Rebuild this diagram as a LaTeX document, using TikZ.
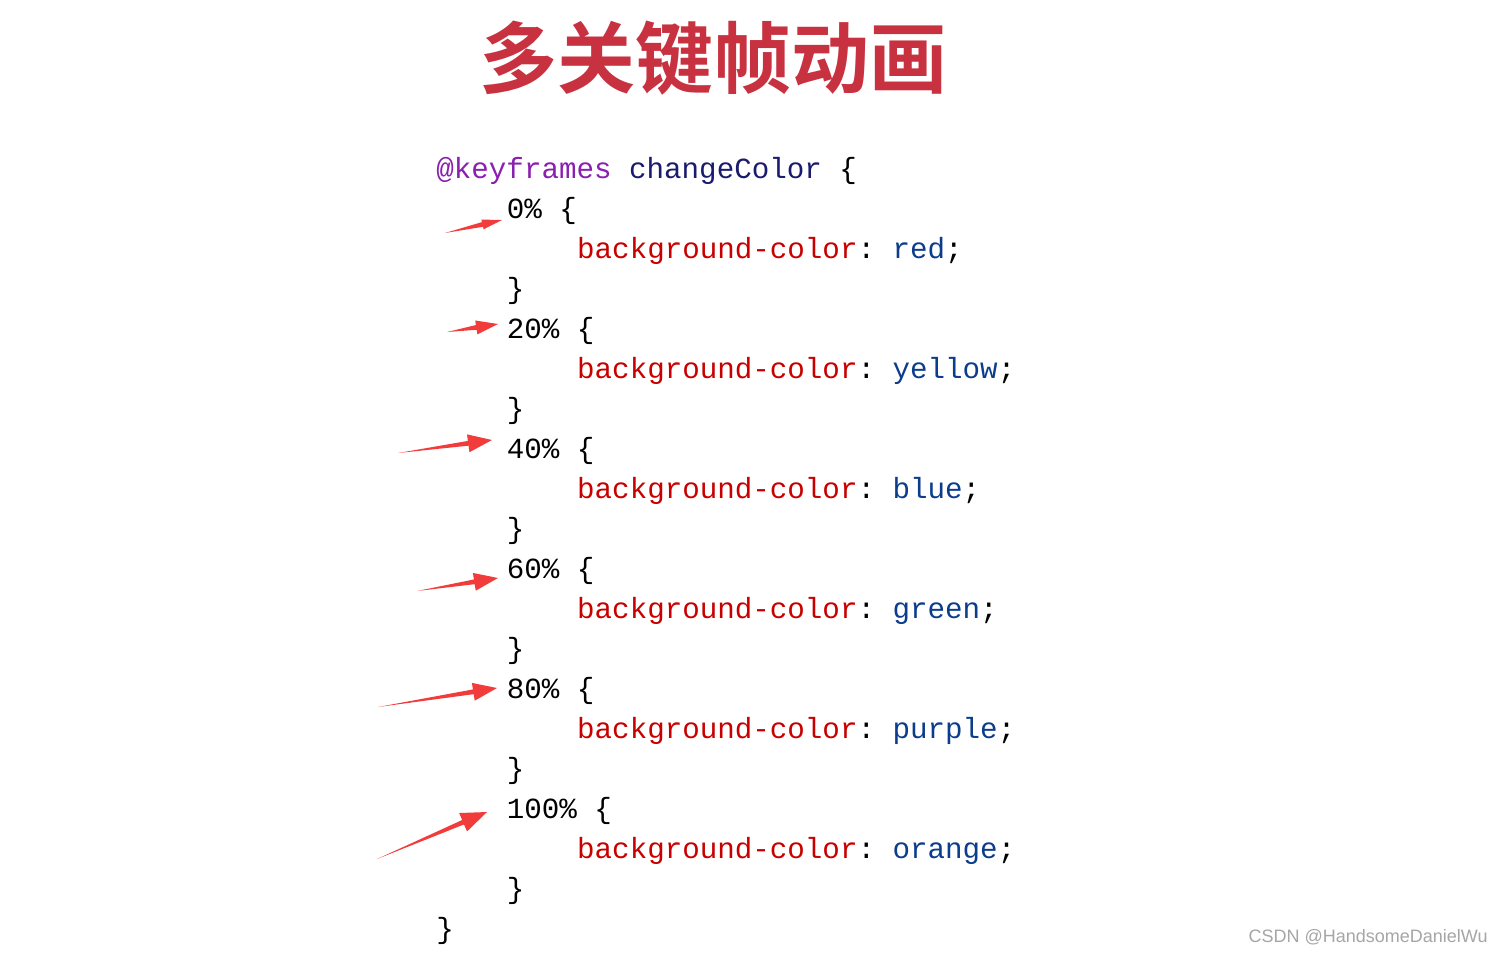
\documentclass[tikz,border=0pt]{standalone}
\usepackage{fontspec}
\usetikzlibrary{calc}
\newfontfamily\cjk{Noto Sans CJK SC Bold}
\setmonofont{Liberation Mono}
\definecolor{titlered}{HTML}{C83240}
\definecolor{kwpurple}{HTML}{8A1FB0}
\definecolor{navy}{HTML}{1A1A6E}
\definecolor{propred}{HTML}{C80000}
\definecolor{valblue}{HTML}{0B3D8C}
\definecolor{arrred}{HTML}{F23C3C}
\tikzset{code/.style={anchor=base west,inner sep=0pt,font=\ttfamily\fontsize{14.6pt}{16pt}\selectfont}}
\newcommand\cx[1]{\fpeval{436+17.6*#1}}
\newcommand\redarrow[5]{%
 \coordinate (#1t) at (#2); \coordinate (#1p) at (#3);
 \coordinate (#1h) at ($(#1p)!#4!(#1t)$);
 \fill[arrred] (#1t) -- ($(#1h)!1.2pt!90:(#1p)$) -- ($(#1h)!#5!90:(#1p)$) -- (#1p)
   -- ($(#1h)!#5!-90:(#1p)$) -- ($(#1h)!1.2pt!-90:(#1p)$) -- cycle;}
\begin{document}
\begin{tikzpicture}[x=0.5pt,y=-0.5pt]
\useasboundingbox[fill=white] (0,0) rectangle (1503,954);
\node[text=titlered,font=\cjk\fontsize{39pt}{40pt}\selectfont,inner sep=0pt] (title) at (713,58) {多关键帧动画};
\node[code] (l1) at (\cx{0},178) {\textcolor{kwpurple}{@keyframes} \textcolor{navy}{changeColor} \{};
\foreach \p/\v/\i in {0\%/red/0,20\%/yellow/1,40\%/blue/2,60\%/green/3,80\%/purple/4,100\%/orange/5}{
  \node[code] (k\i) at (\cx{4},218+120*\i) {\p{} \{};
  \node[code] (b\i) at (\cx{8},258+120*\i) {\textcolor{propred}{background-color}: \textcolor{valblue}{\v};};
  \node[code] (c\i) at (\cx{4},298+120*\i) {\}};
}
\node[code] (end) at (\cx{0},938) {\}};
\redarrow{a}{445,233}{502,220}{10pt}{2.5pt}
\redarrow{b}{447,332}{498,324}{11pt}{3.5pt}
\redarrow{c}{398,453}{492,440}{12pt}{4.5pt}
\redarrow{d}{417,591}{498,578}{12pt}{4.5pt}
\redarrow{e}{378,707}{497,688}{12pt}{4.5pt}
\redarrow{f}{377,859}{487,812}{13pt}{5pt}
\node[anchor=east,inner sep=0pt,text=gray!70,font=\fontspec{Liberation Sans}\fontsize{9pt}{10pt}\selectfont] (wm) at (1488,937) {CSDN @HandsomeDanielWu};
\end{tikzpicture}
\end{document}
